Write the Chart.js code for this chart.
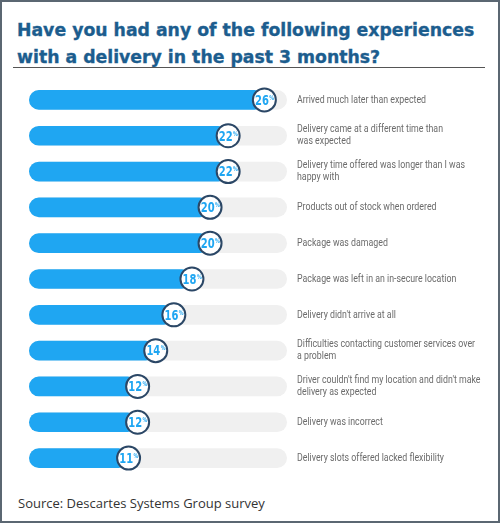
<!DOCTYPE html>
<html>
<head>
<meta charset="utf-8">
<script src="https://cdn.jsdelivr.net/npm/chart.js@4.4.1/dist/chart.umd.min.js"></script>
<style>
  html, body { margin: 0; padding: 0; background: #fff; }
  #frame { position: absolute; left: 0; top: 0; width: 496px; height: 519px; border: 2px solid #5b6772; }
  #title { position: absolute; left: 17px; top: 17px; width: 480px; white-space: nowrap; font-family: "DejaVu Sans", sans-serif; font-weight: bold; font-size: 17.3px; line-height: 26.5px; color: #1c5d8e; -webkit-text-stroke: 0.35px #1c5d8e; }
  #rule { position: absolute; left: 13px; top: 67px; width: 472px; height: 0; border-top: 1.5px solid #555; }
  #source { position: absolute; left: 18px; top: 494px; font-family: "Open Sans", sans-serif; font-size: 13px; color: #333; }
  #wrap { position: absolute; left: 0; top: 0; width: 500px; height: 523px; }
</style>
</head>
<body>
<div id="frame"></div>
<div id="title">Have you had any of the following experiences<br>with a delivery in the past 3 months?</div>
<div id="rule"></div>
<div id="source">Source: Descartes Systems Group survey</div>
<div id="wrap"><canvas id="c"></canvas></div>
<script>
const categories = [
  ["Arrived much later than expected"],
  ["Delivery came at a different time than", "was expected"],
  ["Delivery time offered was longer than I was", "happy with"],
  ["Products out of stock when ordered"],
  ["Package was damaged"],
  ["Package was left in an in-secure location"],
  ["Delivery didn't arrive at all"],
  ["Difficulties contacting customer services over", "a problem"],
  ["Driver couldn't find my location and didn't make", "delivery as expected"],
  ["Delivery was incorrect"],
  ["Delivery slots offered lacked flexibility"]
];
const values = [26, 22, 22, 20, 20, 18, 16, 14, 12, 12, 11];
const axisMin = 0;
const axisMax = 28.5;

const BLUE = '#1fa6f2';
const TRACK = '#f0f0f0';
const RING = '#2b4766';
const LABEL_FONT = '11px Roboto, sans-serif';
const LABEL_SQUEEZE = 0.8;
const LABEL_LINE = 12;
const LABEL_GAP = 10;

const trackPlugin = {
  id: 'track',
  beforeDatasetsDraw(chart) {
    const ctx = chart.ctx;
    const area = chart.chartArea;
    const meta = chart.getDatasetMeta(0);
    ctx.save();
    ctx.fillStyle = TRACK;
    meta.data.forEach(bar => {
      const h = bar.height;
      const top = bar.y - h / 2;
      ctx.beginPath();
      ctx.roundRect(area.left, top, area.right - area.left, h, h / 2);
      ctx.fill();
    });
    ctx.restore();
  }
};

const badgePlugin = {
  id: 'badge',
  afterDatasetsDraw(chart) {
    const ctx = chart.ctx;
    const meta = chart.getDatasetMeta(0);
    ctx.save();
    meta.data.forEach((bar, i) => {
      const x = bar.x, y = bar.y;
      ctx.beginPath();
      ctx.arc(x, y, 11.5, 0, Math.PI * 2);
      ctx.fillStyle = '#fff';
      ctx.fill();
      ctx.lineWidth = 2;
      ctx.strokeStyle = RING;
      ctx.stroke();
      const txt = String(values[i]);
      const big = 'bold 13.5px "DejaVu Sans Condensed", sans-serif';
      const small = 'bold 6.5px "DejaVu Sans Condensed", sans-serif';
      const sq = 0.82;
      ctx.fillStyle = BLUE;
      ctx.textBaseline = 'alphabetic';
      ctx.textAlign = 'left';
      ctx.font = big;
      const w = ctx.measureText(txt).width * sq;
      ctx.font = small;
      const pw = ctx.measureText('%').width * sq;
      const start = x - (w + pw) / 2;
      ctx.save();
      ctx.translate(start, y + 4.8);
      ctx.scale(sq, 1);
      ctx.font = big;
      ctx.fillText(txt, 0, 0);
      ctx.font = small;
      ctx.fillText('%', w / sq + 0.5, -5);
      ctx.restore();
    });
    ctx.restore();
  }
};

const labelPlugin = {
  id: 'rightLabels',
  afterDraw(chart) {
    const ctx = chart.ctx;
    const scale = chart.scales.y;
    const x0 = chart.chartArea.right + LABEL_GAP;
    ctx.save();
    ctx.font = LABEL_FONT;
    ctx.fillStyle = '#6b6b6b';
    ctx.textAlign = 'left';
    ctx.textBaseline = 'middle';
    chart.data.labels.forEach((lines, i) => {
      const yc = scale.getPixelForTick(i);
      const n = lines.length;
      lines.forEach((line, j) => {
        const y = yc + (j - (n - 1) / 2) * LABEL_LINE;
        ctx.save();
        ctx.translate(x0, y);
        ctx.scale(LABEL_SQUEEZE, 1);
        ctx.fillText(line, 0, 0);
        ctx.restore();
      });
    });
    ctx.restore();
  }
};

new Chart(document.getElementById('c'), {
  type: 'bar',
  data: {
    labels: categories,
    datasets: [{
      data: values,
      backgroundColor: BLUE,
      borderRadius: 10,
      borderSkipped: false,
      barPercentage: 0.55,
      categoryPercentage: 1
    }]
  },
  options: {
    indexAxis: 'y',
    responsive: true,
    maintainAspectRatio: false,
    animation: false,
    layout: { padding: { left: 29, top: 82, bottom: 47, right: 0 } },
    plugins: { legend: { display: false }, tooltip: { enabled: false } },
    scales: {
      x: { display: false, min: axisMin, max: axisMax },
      y: {
        position: 'right',
        grid: { display: false, drawTicks: false, tickLength: 0 },
        border: { display: false },
        afterFit(axis) { axis.width = 213; },
        ticks: { display: false }
      }
    }
  },
  plugins: [trackPlugin, badgePlugin, labelPlugin]
});
</script>
</body>
</html>
